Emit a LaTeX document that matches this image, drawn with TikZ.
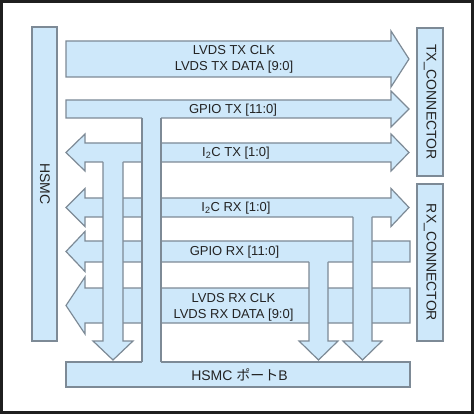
\documentclass[tikz,border=0pt]{standalone}
\usepackage{fontspec}
\setmainfont{Liberation Sans}
\newfontfamily\jpfont{Noto Sans CJK JP}
\definecolor{boxfill}{RGB}{206,232,250}
\definecolor{boxline}{RGB}{125,138,150}
\definecolor{txt}{RGB}{35,35,35}
\begin{document}
\begin{tikzpicture}[x=1pt,y=-1pt,
  blk/.style={fill=boxfill, draw=boxline, line width=1.2pt, line join=miter},
  stemfill/.style={fill=boxfill},
  stemline/.style={draw=boxline, line width=1.2pt, line join=miter},
  boxnode/.style={blk, rectangle, inner sep=0pt, outer sep=0pt, anchor=north west},
  lbl/.style={font=\fontsize{13}{16}\selectfont, text=txt, inner sep=0pt, align=center},
  biglbl/.style={font=\fontsize{14}{16}\selectfont, text=txt, inner sep=0pt, align=center},
  vlbl/.style={font=\fontsize{14}{16}\selectfont, text=txt, inner sep=0pt, rotate=-90}]
\useasboundingbox (0,0) rectangle (474,414);
\fill[white] (0,0) rectangle (474,414);
\draw[line width=3pt, black!88] (1.5,1.5) rectangle (472.5,412);

% boxes
\node[boxnode, minimum width=25pt, minimum height=314pt] (hsmc) at (32,27) {};
\node[boxnode, minimum width=26pt, minimum height=148pt] (txc) at (417,28) {};
\node[boxnode, minimum width=26pt, minimum height=157pt] (rxc) at (417,184) {};
\node[boxnode, minimum width=344pt, minimum height=25pt] (portb) at (66,362) {};

\node[vlbl] (hsmclbl) at (45,184) {HSMC};
\node[vlbl] (txclbl) at (txc.center) {TX\_CONNECTOR};
\node[vlbl] (rxclbl) at (rxc.center) {RX\_CONNECTOR};
\node[biglbl] (portblbl) at (239.5,375) {HSMC {\jpfont ポート}B};

% horizontal arrows
\draw[blk] (66,41) -- (391,41) -- (391,31) -- (409,59) -- (391,87) -- (391,77) -- (66,77) -- cycle;
\draw[blk] (66,100) -- (391,100) -- (391,91) -- (409,109) -- (391,127) -- (391,118) -- (66,118) -- cycle;
\draw[blk] (85,143) -- (391,143) -- (391,134) -- (409,152.5) -- (391,171) -- (391,162)
  -- (85,162) -- (85,171) -- (66,152.5) -- (85,134) -- cycle;
\draw[blk] (85,198) -- (391,198) -- (391,188.5) -- (409,207.5) -- (391,226.5) -- (391,217)
  -- (85,217) -- (85,226.5) -- (66,207.5) -- (85,188.5) -- cycle;
\draw[blk] (85,241) -- (410,241) -- (410,262) -- (85,262) -- (85,271.5) -- (66,251.5) -- (85,231.5) -- cycle;
\draw[blk] (85,288) -- (410,288) -- (410,323) -- (85,323) -- (85,334) -- (66,305.5) -- (85,277) -- cycle;

% stems
% GPIO TX stem (open both ends)
\fill[stemfill] (142,117.2) rectangle (161,362.8);
\draw[stemline] (142,118) -- (142,362);
\draw[stemline] (161,118) -- (161,362);
% I2C TX stem
\fill[stemfill] (103,161.2) -- (103,341) -- (93,341) -- (113,360) -- (133,341) -- (123,341) -- (123,161.2) -- cycle;
\draw[stemline] (103,162) -- (103,341) -- (93,341) -- (113,360) -- (133,341) -- (123,341) -- (123,162);
% I2C RX stem
\fill[stemfill] (353,216.2) -- (353,341) -- (343,341) -- (362.5,360) -- (382,341) -- (372,341) -- (372,216.2) -- cycle;
\draw[stemline] (353,217) -- (353,341) -- (343,341) -- (362.5,360) -- (382,341) -- (372,341) -- (372,217);
% GPIO RX stem
\fill[stemfill] (309,261.2) -- (309,341) -- (299,341) -- (318.5,360) -- (338,341) -- (328,341) -- (328,261.2) -- cycle;
\draw[stemline] (309,262) -- (309,341) -- (299,341) -- (318.5,360) -- (338,341) -- (328,341) -- (328,262);

% labels
\node[lbl] (lvdstx) at (234,59) {LVDS TX CLK\\LVDS TX DATA [9:0]};
\node[lbl] (gpiotx) at (233,110) {GPIO TX [11:0]};
\node[lbl] (i2ctx) at (236,153) {I\textsubscript{2}C TX [1:0]};
\node[lbl] (i2crx) at (236,208) {I\textsubscript{2}C RX [1:0]};
\node[lbl] (gpiorx) at (234.5,252) {GPIO RX [11:0]};
\node[lbl] (lvdsrx) at (233.5,307) {LVDS RX CLK\\LVDS RX DATA [9:0]};
\end{tikzpicture}
\end{document}
